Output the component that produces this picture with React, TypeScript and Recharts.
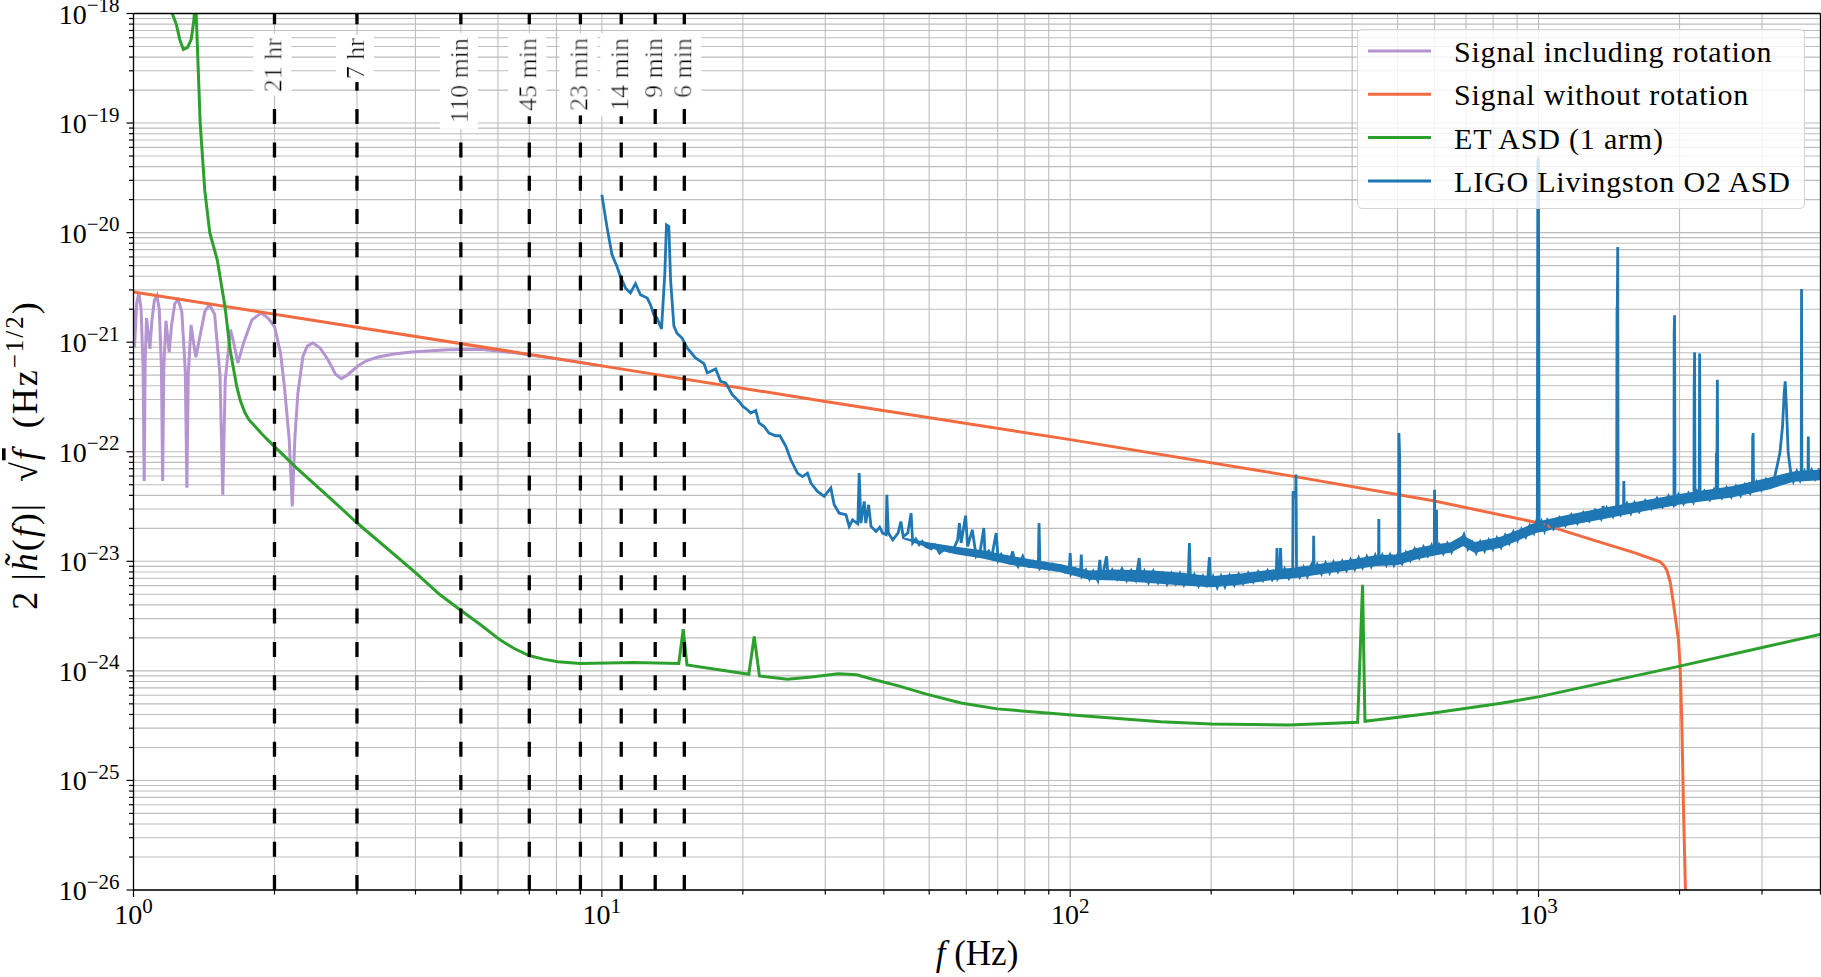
import { Area, CartesianGrid, ComposedChart, Line, ReferenceLine, XAxis, YAxis } from 'recharts'

const SERIF = '"Liberation Serif", "DejaVu Serif", serif'

// axis decades and minor multiples
const xDecades = [1, 10, 100, 1000]
const yDecades = [1e-26, 1e-25, 1e-24, 1e-23, 1e-22, 1e-21, 1e-20, 1e-19]
const mantissas = [1, 2, 3, 4, 5, 6, 7, 8, 9]
const xTicks = xDecades.flatMap((d) => mantissas.map((m) => m * d)).filter((v) => v <= 4000)
const yTicks = [...yDecades.flatMap((d) => mantissas.map((m) => m * d)), 1e-18]

// dashed markers: frequency (Hz) and time to merger
const markerFreqs = [2, 3, 5, 7, 9, 11, 13, 15]
const markerLabels = ['21 hr', '7 hr', '110 min', '45 min', '23 min', '14 min', '9 min', '6 min']

// [f (Hz), 2|h(f)|sqrt(f)]
const signalRotation = [
  [1.0, 2.0e-21], [1.005, 9.0e-22], [1.016, 2.3e-21], [1.027, 2.8e-21], [1.038, 2.0e-21],
  [1.048, 6.0e-22], [1.054, 5.4e-23], [1.059, 6.5e-22], [1.066, 1.66e-21], [1.075, 1.2e-21],
  [1.084, 8.7e-22], [1.095, 1.6e-21], [1.108, 2.4e-21], [1.122, 2.66e-21], [1.135, 2.0e-21],
  [1.147, 6.0e-22], [1.154, 5.4e-23], [1.161, 6.0e-22], [1.173, 1.57e-21], [1.182, 1.15e-21],
  [1.192, 8.1e-22], [1.205, 1.4e-21], [1.225, 2.25e-21], [1.246, 2.44e-21], [1.268, 1.9e-21],
  [1.29, 5.5e-22], [1.3, 4.7e-23], [1.309, 5.0e-22], [1.327, 1.44e-21], [1.343, 1.0e-21],
  [1.359, 7.3e-22], [1.39, 1.2e-21], [1.42, 1.9e-21], [1.452, 2.2e-21], [1.49, 1.8e-21],
  [1.53, 5.0e-22], [1.551, 4.05e-23], [1.57, 4.5e-22], [1.611, 1.3e-21], [1.64, 9.5e-22],
  [1.67, 6.45e-22], [1.72, 1.0e-21], [1.79, 1.6e-21], [1.873, 1.85e-21], [1.94, 1.65e-21],
  [2.0, 1.39e-21], [2.06, 8.0e-22], [2.1, 3.95e-22], [2.15, 1.3e-22], [2.183, 3.17e-23],
  [2.21, 1.3e-22], [2.244, 3.43e-22], [2.3, 7.41e-22], [2.35, 9.2e-22], [2.416, 9.84e-22],
  [2.5, 8.9e-22], [2.602, 6.92e-22], [2.7, 5.1e-22], [2.779, 4.65e-22], [2.86, 5.0e-22],
  [3.016, 6.09e-22], [3.15, 6.8e-22], [3.329, 7.32e-22], [3.6, 7.8e-22], [3.923, 8.13e-22],
  [4.7, 8.55e-22], [5.5, 8.6e-22], [6.5, 8.0e-22], [7.5, 7.35e-22], [8.5, 6.79e-22], [10, 6.08e-22],
]

const signalNoRotation = [
  [1, 2.87e-21], [10, 6.08e-22], [30, 2.88e-22], [100, 1.29e-22], [300, 5.96e-23],
  [600, 3.55e-23], [1000, 2.24e-23], [1310, 1.56e-23], [1600, 1.2e-23], [1818, 9.9e-24],
  [1850, 9.2e-24], [1879, 8.3e-24], [1910, 6.5e-24], [1941, 4.14e-24], [1990, 1.92e-24],
  [2006, 1.09e-24], [2023, 3.32e-25], [2039, 5.75e-26], [2059, 1.0e-26], [2075, 1.0e-27],
]

const etAsd = [
  [1.16, 1e-16], [1.21, 1.0e-18], [1.235, 7.9e-19], [1.255, 5.8e-19], [1.278, 4.7e-19],
  [1.305, 4.9e-19], [1.328, 5.8e-19], [1.345, 8.5e-19], [1.354, 1.3e-18], [1.357, 1e-15],
  [1.361, 1.0e-18], [1.388, 1.0e-19], [1.42, 2.4e-20], [1.455, 1.0e-20], [1.51, 5.6e-21],
  [1.568, 2.12e-21], [1.607, 8.6e-22], [1.661, 3.95e-22], [1.69, 2.95e-22], [1.73, 2.27e-22],
  [1.765, 1.95e-22], [1.803, 1.77e-22], [1.88, 1.45e-22], [1.998, 1.12e-22], [2.231, 7.1e-23],
  [2.628, 3.78e-23], [2.995, 2.26e-23], [4.0, 7.9e-24], [4.5, 5.0e-24], [4.98, 3.61e-24],
  [5.5, 2.65e-24], [6.06, 1.92e-24], [6.5, 1.6e-24], [6.99, 1.38e-24], [7.5, 1.28e-24],
  [8.06, 1.21e-24], [9.0, 1.17e-24], [11.72, 1.19e-24], [14.6, 1.17e-24], [14.92, 2.4e-24],
  [15.2, 1.13e-24], [20.6, 9.3e-25], [21.15, 2.06e-24], [21.7, 9.0e-25], [24.9, 8.4e-25],
  [28.0, 8.8e-25], [32.0, 9.4e-25], [35.0, 9.2e-25], [38.2, 8.3e-25], [43.0, 7.3e-25],
  [49.1, 6.17e-25], [58.5, 5.1e-25], [69.8, 4.5e-25], [99.3, 3.97e-25], [156, 3.44e-25],
  [200, 3.28e-25], [293, 3.21e-25], [411, 3.4e-25], [421, 6.1e-24], [426, 3.47e-25],
  [591, 4.11e-25], [832, 5.07e-25], [1005, 5.82e-25], [2014, 1.11e-24], [3020, 1.64e-24],
  [4010, 2.16e-24],
]

const ligoAsd = [
  [10.0, 2.22e-20], [10.25, 1.14e-20], [10.51, 6.3e-21], [10.77, 4.92e-21], [10.95, 3.99e-21],
  [11.23, 3.13e-21], [11.51, 2.81e-21], [11.8, 3.42e-21], [12.09, 2.71e-21], [12.5, 2.53e-21],
  [12.7, 2.2e-21], [12.91, 1.78e-21], [13.12, 1.66e-21], [13.41, 1.32e-21], [13.63, 4.28e-21],
  [13.74, 1.18e-20], [13.9, 1.14e-20], [14.02, 3.72e-21], [14.25, 1.4e-21], [14.48, 1.2e-21],
  [14.84, 1.09e-21], [15.21, 8.85e-22], [15.85, 7.18e-22], [16.52, 6.37e-22], [16.79, 5.24e-22],
  [17.5, 5.69e-22], [17.93, 4.39e-22], [18.38, 4.24e-22], [18.99, 3.32e-22], [19.63, 2.88e-22],
  [20.01, 2.59e-22], [20.45, 2.42e-22], [20.79, 2.26e-22], [21.31, 2.38e-22], [21.66, 1.83e-22],
  [22.2, 1.7e-22], [22.75, 1.48e-22], [23.5, 1.4e-22], [24.0, 1.4e-22], [24.71, 1.12e-22],
  [25.32, 8.45e-23], [26.16, 6.38e-23], [26.81, 5.94e-23], [27.48, 6.38e-23], [27.95, 5.18e-23],
  [28.87, 4.34e-23], [29.83, 3.91e-23], [30.83, 4.66e-23], [31.34, 3.28e-23], [32.12, 2.75e-23],
  [33.2, 2.66e-23], [33.75, 2.08e-23], [34.3, 2.39e-23], [35.2, 2.2e-23], [35.44, 6.38e-23],
  [35.74, 2.23e-23], [36.33, 3.52e-23], [36.6, 2.23e-23], [37.12, 3.28e-23], [37.56, 2.08e-23],
  [38.5, 1.87e-23], [39.2, 2.05e-23], [39.78, 1.81e-23], [40.45, 1.75e-23], [40.6, 4.05e-23],
  [40.9, 1.81e-23], [41.8, 1.57e-23], [42.9, 1.81e-23], [43.5, 2.31e-23], [44.0, 1.68e-23],
  [45.0, 1.81e-23], [45.74, 2.75e-23], [46.1, 1.47e-23], [46.8, 1.6e-23], [47.6, 1.42e-23],
  [48.3, 1.52e-23], [49.1, 1.37e-23], [50.5, 1.3e-23], [51.5, 1.4e-23], [52.6, 1.19e-23],
  [54.0, 1.3e-23], [55.3, 1.23e-23], [56.5, 1.32e-23], [57.5, 1.57e-23], [58.0, 2.23e-23],
  [58.5, 1.47e-23], [59.8, 2.61e-23], [60.4, 1.37e-23], [61.8, 1.94e-23], [63.0, 1.11e-23],
  [64.2, 1.22e-23], [65.4, 2.01e-23], [65.8, 1.15e-23], [67.0, 1.24e-23], [68.0, 1.1e-23],
  [69.5, 1.81e-23], [70.2, 1.03e-23], [71.2, 1.15e-23], [72.5, 1.0e-23], [74.3, 9.64e-24],
  [75.3, 1.23e-23], [76.3, 9.8e-24], [77.4, 8.97e-24], [79.2, 1.11e-23], [80.5, 9.2e-24],
  [81.9, 8.97e-24], [83.5, 1.0e-23], [85.5, 9.2e-24], [85.8, 2.23e-23], [86.2, 8.67e-24],
  [88.0, 9.6e-24], [90.0, 8.5e-24], [91.8, 9.4e-24], [93.5, 8.36e-24], [95.5, 9.1e-24],
  [97.5, 8.0e-24], [99.6, 8.8e-24], [100.0, 1.19e-23], [100.5, 7.7e-24], [102.5, 8.6e-24],
  [105.2, 7.6e-24], [105.6, 1.15e-23], [106.0, 7.4e-24], [108.0, 8.3e-24], [110.0, 6.9e-24],
  [112.0, 8.1e-24], [114.5, 6.7e-24], [115.7, 1.03e-23], [116.5, 6.9e-24], [118.0, 8.4e-24],
  [119.6, 1.11e-23], [120.5, 6.8e-24], [123.0, 8.3e-24], [126.0, 6.9e-24], [129.0, 8.5e-24],
  [132.0, 6.7e-24], [135.0, 8.2e-24], [138.0, 6.8e-24], [140.4, 1.07e-23], [141.5, 6.7e-24],
  [144.0, 8.1e-24], [147.0, 6.4e-24], [150.5, 8.1e-24], [154.0, 6.4e-24], [157.5, 7.7e-24],
  [161.0, 6.2e-24], [164.5, 7.7e-24], [168.0, 6.3e-24], [171.5, 7.7e-24], [175.0, 6.1e-24],
  [178.7, 7.0e-24], [179.7, 1.47e-23], [180.7, 6.2e-24], [184.0, 7.5e-24], [188.0, 6.0e-24],
  [192.0, 7.3e-24], [196.0, 5.8e-24], [198.3, 1.09e-23], [199.5, 6.0e-24], [202.0, 7.2e-24],
  [206.0, 5.8e-24], [210.0, 7.3e-24], [214.0, 5.9e-24], [219.0, 7.4e-24], [224.0, 6.1e-24],
  [229.0, 7.6e-24], [234.0, 6.3e-24], [240.0, 7.8e-24], [246.0, 6.5e-24], [252.0, 8.0e-24],
  [258.0, 6.7e-24], [264.0, 8.2e-24], [270.0, 6.8e-24], [275.5, 7.8e-24], [276.4, 1.32e-23],
  [277.6, 7.0e-24], [280.2, 7.4e-24], [281.3, 1.32e-23], [282.6, 7.0e-24], [287.0, 8.5e-24],
  [293.0, 7.0e-24], [298.6, 8.0e-24], [299.2, 4.35e-23], [302.9, 3.8e-23], [303.5, 6.2e-23],
  [304.3, 8.1e-24], [309.0, 7.2e-24], [315.0, 8.8e-24], [321.0, 7.3e-24], [327.0, 9.1e-24],
  [330.4, 7.6e-24], [331.0, 1.71e-23], [331.8, 7.6e-24], [337.0, 9.3e-24], [344.0, 7.7e-24],
  [351.0, 9.6e-24], [358.0, 7.9e-24], [365.0, 9.8e-24], [373.0, 8.1e-24], [381.0, 1.0e-23],
  [389.0, 8.3e-24], [397.0, 1.03e-23], [405.0, 8.5e-24], [413.0, 1.07e-23], [421.0, 8.8e-24],
  [430.0, 1.1e-23], [439.0, 9.0e-24], [448.0, 1.13e-23], [455.3, 9.3e-24], [456.0, 2.43e-23],
  [456.8, 9.3e-24], [464.0, 1.13e-23], [473.0, 9.3e-24], [482.0, 1.14e-23], [491.0, 9.3e-24],
  [500.0, 1.14e-23], [502.8, 1.0e-23], [503.4, 1.48e-22], [505.2, 9.0e-23], [506.0, 1.0e-23],
  [511.0, 9.5e-24], [521.0, 1.2e-23], [532.0, 1.02e-23], [544.0, 1.29e-23], [556.0, 1.08e-23],
  [568.0, 1.35e-23], [580.0, 1.13e-23], [591.0, 1.39e-23], [598.8, 1.2e-23], [599.8, 4.5e-23],
  [600.8, 1.25e-23], [604.8, 1.25e-23], [605.6, 2.95e-23], [606.6, 1.15e-23], [614.0, 1.4e-23],
  [626.0, 1.18e-23], [639.0, 1.45e-23], [652.0, 1.22e-23], [666.0, 1.5e-23], [679.0, 1.45e-23],
  [693.0, 1.75e-23], [707.0, 1.3e-23], [721.0, 1.49e-23], [736.0, 1.2e-23], [751.0, 1.5e-23],
  [767.0, 1.25e-23], [783.0, 1.56e-23], [799.0, 1.3e-23], [815.0, 1.62e-23], [832.0, 1.35e-23],
  [849.0, 1.72e-23], [866.0, 1.46e-23], [884.0, 1.85e-23], [902.0, 1.56e-23], [920.0, 1.96e-23],
  [939.0, 1.67e-23], [958.0, 2.12e-23], [977.0, 1.82e-23], [990.0, 2.3e-23], [994.0, 2.2e-23],
  [996.5, 4.5e-20], [999.5, 4.84e-20], [1003, 2.0e-23], [1015, 2.3e-23], [1030, 1.9e-23],
  [1045, 2.37e-23], [1076, 1.98e-23], [1108, 2.51e-23], [1141, 2.12e-23], [1175, 2.66e-23],
  [1210, 2.22e-23], [1246, 2.78e-23], [1283, 2.34e-23], [1321, 2.93e-23], [1360, 2.45e-23],
  [1374, 3.2e-23], [1386, 2.5e-23], [1400, 3.06e-23], [1441, 2.57e-23], [1462, 3.15e-23],
  [1468, 2.9e-23], [1471, 2.1e-21], [1473, 2.0e-21], [1476, 7.4e-21], [1479, 2.8e-23],
  [1495, 2.66e-23], [1512, 3.25e-23], [1518, 2.8e-23], [1521, 5.4e-23], [1524, 2.9e-23],
  [1545, 3.36e-23], [1575, 2.77e-23], [1603, 3.41e-23], [1640, 2.84e-23], [1690, 3.58e-23],
  [1740, 3.02e-23], [1790, 3.77e-23], [1840, 3.15e-23], [1895, 3.94e-23], [1940, 3.3e-23],
  [1946, 3.6e-23], [1948, 1.22e-21], [1952, 1.76e-21], [1956, 3.2e-23], [1990, 4.05e-23],
  [2040, 3.35e-23], [2090, 4.18e-23], [2140, 3.47e-23], [2147, 3.7e-23], [2149, 3.5e-22],
  [2154, 8.07e-22], [2158, 3.8e-23], [2180, 4.3e-23], [2203, 3.9e-23], [2208, 7.9e-22],
  [2213, 3.9e-23], [2260, 4.38e-23], [2320, 3.65e-23], [2370, 4.5e-23], [2395, 4.1e-23],
  [2398, 9.8e-23], [2402, 4.2e-23], [2409, 4.55e-22], [2414, 4.1e-23], [2460, 3.78e-23],
  [2520, 4.68e-23], [2580, 3.87e-23], [2640, 4.82e-23], [2700, 4.0e-23], [2760, 5.0e-23],
  [2830, 4.19e-23], [2862, 4.7e-23], [2866, 1.4e-22], [2869, 4.7e-23], [2872, 1.48e-22],
  [2878, 4.7e-23], [2920, 5.3e-23], [2990, 4.5e-23], [3060, 5.6e-23], [3130, 4.8e-23],
  [3195, 5.94e-23], [3276, 9.73e-23], [3319, 1.7e-22], [3346, 3.44e-22], [3363, 4.39e-22],
  [3385, 2.42e-22], [3413, 9.73e-23], [3457, 6.38e-23], [3500, 5.4e-23], [3560, 6.6e-23],
  [3620, 5.5e-23], [3638, 5.8e-23], [3644, 3.06e-21], [3650, 5.6e-23], [3700, 6.6e-23],
  [3760, 5.6e-23], [3767, 1.38e-22], [3773, 5.8e-23], [3830, 6.8e-23], [3900, 5.7e-23],
  [3970, 6.8e-23], [4050, 6.2e-23],
]

// [f (Hz), lower, upper] envelope of the dense LIGO noise floor
const ligoNoiseBand = [
  [44, 1.62e-23, 1.62e-23], [50, 1.34e-23, 1.46e-23], [57, 1.18e-23, 1.34e-23], [65, 1.08e-23, 1.24e-23],
  [75, 9.4e-24, 1.1e-23], [85, 8.7e-24, 1.0e-23], [95, 8.1e-24, 9.3e-24], [110, 6.9e-24, 8.1e-24],
  [125, 6.8e-24, 8.3e-24], [150, 6.4e-24, 8.1e-24], [175, 6.1e-24, 7.7e-24], [200, 5.9e-24, 7.2e-24],
  [230, 6.2e-24, 7.6e-24], [265, 6.8e-24, 8.2e-24], [300, 7.1e-24, 8.6e-24], [340, 7.7e-24, 9.3e-24],
  [400, 8.5e-24, 1.03e-23], [450, 9.2e-24, 1.12e-23], [500, 9.4e-24, 1.14e-23], [550, 1.06e-23, 1.3e-23],
  [600, 1.15e-23, 1.4e-23], [650, 1.22e-23, 1.47e-23], [690, 1.4e-23, 1.7e-23], [730, 1.22e-23, 1.48e-23],
  [830, 1.35e-23, 1.65e-23], [930, 1.66e-23, 2.0e-23], [990, 1.85e-23, 2.25e-23], [1030, 1.9e-23, 2.35e-23],
  [1150, 2.15e-23, 2.6e-23], [1360, 2.45e-23, 3.0e-23], [1600, 2.8e-23, 3.4e-23], [2000, 3.35e-23, 4.05e-23],
  [2600, 3.9e-23, 4.8e-23], [3100, 4.6e-23, 5.7e-23], [3500, 5.4e-23, 6.5e-23], [4050, 5.6e-23, 6.8e-23],
]

const seriesNames = ['Signal including rotation', 'Signal without rotation', 'ET ASD (1 arm)', 'LIGO Livingston O2 ASD']
const seriesColors = ['#b495d1', '#f26a3f', '#2ca02c', '#1f77b4']

const toPoints = (rows: number[][]) => rows.map(([f, v]) => ({ f, v }))
const toRange = (rows: number[][]) => rows.map(([f, lo, hi]) => ({ f, range: [lo, hi] }))

function isMajor(v: number) {
  const lg = Math.log10(v)
  return Math.abs(lg - Math.round(lg)) < 1e-6
}

function XTick({ x, y, payload }: any) {
  const v = payload.value as number
  const major = isMajor(v)
  return (
    <g>
      <line x1={x} x2={x} y1={y} y2={y + (major ? 7 : 4.5)} stroke="#000" strokeWidth={1.2} />
      {major && (
        <text x={x} y={y + 34} textAnchor="middle" fontFamily={SERIF} fontSize={28} fill="#000">
          10<tspan dy={-11} fontSize={21}>{Math.round(Math.log10(v))}</tspan>
        </text>
      )}
    </g>
  )
}

function YTick({ x, y, payload }: any) {
  const v = payload.value as number
  const major = isMajor(v)
  return (
    <g>
      <line x1={x} x2={x - (major ? 7 : 4.5)} y1={y} y2={y} stroke="#000" strokeWidth={1.2} />
      {major && (
        <text x={x - 14} y={y + 10} textAnchor="end" fontFamily={SERIF} fontSize={28} fill="#000">
          10<tspan dy={-11.5} fontSize={21}>{'\u2212' + Math.abs(Math.round(Math.log10(v)))}</tspan>
        </text>
      )}
    </g>
  )
}

function MarkerLabel({ viewBox, text, id }: any) {
  const x = viewBox.x - 2
  const y = viewBox.y + 24.5
  return (
    <g>
      <defs>
        <filter id={id} x="-0.06" y="-0.14" width="1.12" height="1.28">
          <feFlood floodColor="#ffffff" result="bg" />
          <feMerge>
            <feMergeNode in="bg" />
            <feMergeNode in="SourceGraphic" />
          </feMerge>
        </filter>
      </defs>
      <text
        x={x}
        y={y}
        transform={`rotate(-90 ${x} ${y})`}
        textAnchor="end"
        dominantBaseline="central"
        fontFamily={SERIF}
        fontSize={26}
        fill="#000"
        filter={`url(#${id})`}
      >
        {text}
      </text>
    </g>
  )
}

function ChartLegend() {
  return (
    <div
      style={{
        position: 'absolute',
        left: 1357,
        top: 29,
        width: 448,
        height: 180,
        boxSizing: 'border-box',
        background: 'rgba(255,255,255,0.8)',
        border: '1px solid #d4d4d4',
        borderRadius: 5,
      }}
    >
      <svg width={446} height={178} style={{ display: 'block' }}>
        {seriesNames.map((name, i) => {
          const cy = 21 + i * 43.3
          return (
            <g key={name}>
              <line x1={10} x2={73} y1={cy} y2={cy} stroke={seriesColors[i]} strokeWidth={3} />
              <text x={96} y={cy + 11} fontFamily={SERIF} fontSize={30} letterSpacing={0.8} fill="#000">
                {name}
              </text>
            </g>
          )
        })}
      </svg>
    </div>
  )
}

export default function App() {
  return (
    <div style={{ position: 'fixed', left: 0, top: 0, width: 1821, height: 977, background: '#fff' }}>
      <ComposedChart width={1821} height={977} margin={{ top: 13.5, right: 0.5, bottom: 0, left: 0 }}>
        <CartesianGrid stroke="#bdbdbd" strokeWidth={1.1} />
        <XAxis
          dataKey="f"
          type="number"
          scale="log"
          domain={[1, 4000]}
          allowDataOverflow
          ticks={xTicks}
          interval={0}
          height={87}
          tickSize={0}
          tickMargin={0}
          tickLine={false}
          tick={<XTick />}
          axisLine={{ stroke: '#000', strokeWidth: 1.3 }}
        />
        <YAxis
          type="number"
          scale="log"
          domain={[1e-26, 1e-18]}
          allowDataOverflow
          ticks={yTicks}
          interval={0}
          width={133.5}
          tickSize={0}
          tickMargin={0}
          tickLine={false}
          tick={<YTick />}
          axisLine={{ stroke: '#000', strokeWidth: 1.3 }}
        />
        <Line data={toPoints(signalRotation)} dataKey="v" stroke={seriesColors[0]} strokeWidth={3} dot={false} isAnimationActive={false} />
        <Line data={toPoints(signalNoRotation)} dataKey="v" stroke={seriesColors[1]} strokeWidth={3} dot={false} isAnimationActive={false} />
        <Line data={toPoints(etAsd)} dataKey="v" stroke={seriesColors[2]} strokeWidth={3} dot={false} isAnimationActive={false} />
        <Area
          data={toRange(ligoNoiseBand)}
          dataKey="range"
          type="linear"
          stroke={seriesColors[3]}
          strokeWidth={1.5}
          fill={seriesColors[3]}
          fillOpacity={1}
          dot={false}
          activeDot={false}
          isAnimationActive={false}
        />
        <Line data={toPoints(ligoAsd)} dataKey="v" stroke={seriesColors[3]} strokeWidth={2.8} dot={false} isAnimationActive={false} />
        {markerFreqs.map((f, i) => (
          <ReferenceLine
            key={f}
            x={f}
            stroke="#000"
            strokeWidth={3.3}
            strokeDasharray="15 18.3"
            label={<MarkerLabel text={markerLabels[i]} id={`mk${i}`} />}
          />
        ))}
        <ReferenceLine y={1e-18} stroke="#000" strokeWidth={1.3} />
        <ReferenceLine x={4000} stroke="#000" strokeWidth={1.3} />
      </ComposedChart>
      <svg width={1821} height={977} style={{ position: 'absolute', left: 0, top: 0, pointerEvents: 'none' }}>
        <text x={977} y={965} textAnchor="middle" fontFamily={SERIF} fontSize={35} fill="#000">
          <tspan fontStyle="italic">f</tspan>
          {' (Hz)'}
        </text>
        <text
          x={37}
          y={455}
          transform="rotate(-90 37 455)"
          textAnchor="middle"
          fontFamily={SERIF}
          fontSize={36}
          letterSpacing={2}
          fill="#000"
        >
          <tspan>{'2\u2009|'}</tspan>
          <tspan fontStyle="italic">{'h\u0303'}</tspan>
          <tspan>(</tspan>
          <tspan fontStyle="italic">f</tspan>
          <tspan>{')|\u2002\u221A'}</tspan>
          <tspan fontStyle="italic" textDecoration="overline">f</tspan>
          <tspan>{'\u2002(Hz'}</tspan>
          <tspan fontSize={25} dy={-14}>{'\u22121/2'}</tspan>
          <tspan dy={14}>)</tspan>
        </text>
      </svg>
      <ChartLegend />
    </div>
  )
}
